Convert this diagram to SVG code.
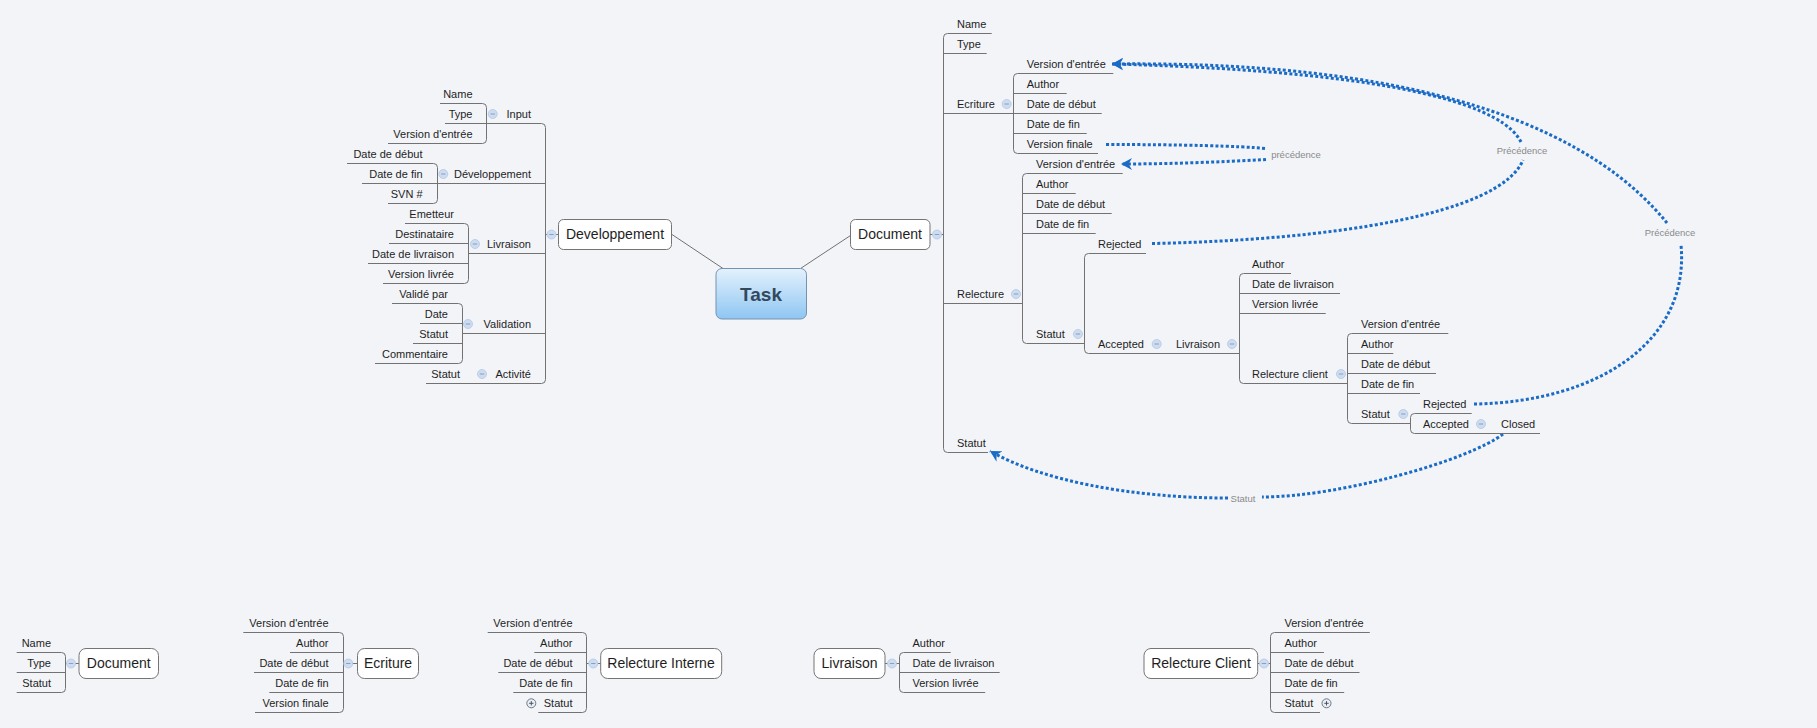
<svg xmlns="http://www.w3.org/2000/svg" width="1817" height="728" viewBox="0 0 1817 728">
<style>
.t{font-family:"Liberation Sans",Arial,sans-serif;font-size:11px;fill:#1e1e1e}
.e{text-anchor:end}
.m{text-anchor:middle}
.big{font-size:14px}
.task{font-size:19px;font-weight:bold;fill:#34485c}
.u{fill:none;stroke:#727272;stroke-width:1}
.box{fill:#ffffff;stroke:#747474;stroke-width:1}
.rel{fill:none;stroke:#1a6bc6;stroke-width:3;stroke-dasharray:3 2.2}
.rl{font-family:"Liberation Sans",Arial,sans-serif;font-size:9.5px;fill:#8a8a8a;text-anchor:middle}
</style>
<defs>
<linearGradient id="tg" x1="0" y1="0" x2="0" y2="1">
<stop offset="0" stop-color="#e3f1fd"/>
<stop offset="1" stop-color="#8fc6f2"/>
</linearGradient>
<g id="mi"><circle r="4.5" fill="#cddcf1" stroke="#b2c7e6" stroke-width="0.8"/><line x1="-2.2" x2="2.2" y1="0" y2="0" stroke="#8797b0" stroke-width="0.9"/></g>
<g id="pl"><circle r="4.5" fill="#e9eef5" stroke="#5d6c7c" stroke-width="0.9"/><line x1="-2.2" x2="2.2" y1="0" y2="0" stroke="#3d4a58" stroke-width="0.9"/><line x1="0" x2="0" y1="-2.2" y2="2.2" stroke="#3d4a58" stroke-width="0.9"/></g>
<marker id="ar" markerUnits="userSpaceOnUse" markerWidth="14" markerHeight="14" refX="11" refY="6" orient="auto" viewBox="0 0 14 12">
<path d="M0,0 L11,6 L0,12 L3.5,6 Z" fill="#1a6bc6"/>
</marker>
</defs>
<rect x="0" y="0" width="1817" height="728" fill="#f2f4f8"/>

<g id="connectors">
<!-- Task links -->
<path class="u" d="M672,234.5 L723,268.5"/>
<path class="u" d="M800.5,268.5 L850.5,235.5"/>
<!-- Developpement side -->
<path class="u" d="M541.5,123.5 Q545.5,123.5 545.5,127.5 V379.5 Q545.5,383.5 541.5,383.5"/>
<path class="u" d="M545.5,234.5 H558.5"/>
<path class="u" d="M482.5,103.5 Q486.5,103.5 486.5,107.5 V139.5 Q486.5,143.5 482.5,143.5"/>
<path class="u" d="M433.5,163.5 Q437.5,163.5 437.5,167.5 V199.5 Q437.5,203.5 433.5,203.5"/>
<path class="u" d="M464.5,223.5 Q468.5,223.5 468.5,227.5 V279.5 Q468.5,283.5 464.5,283.5"/>
<path class="u" d="M458.5,303.5 Q462.5,303.5 462.5,307.5 V359.5 Q462.5,363.5 458.5,363.5"/>
<!-- Document side -->
<path class="u" d="M930,234.5 H943.5"/>
<path class="u" d="M947.5,33.5 Q943.5,33.5 943.5,37.5 V448.5 Q943.5,452.5 947.5,452.5"/>
<path class="u" d="M1017.5,73.5 Q1013.5,73.5 1013.5,77.5 V149.5 Q1013.5,153.5 1017.5,153.5"/>
<path class="u" d="M1026.5,173.5 Q1022.5,173.5 1022.5,177.5 V339.5 Q1022.5,343.5 1026.5,343.5"/>
<path class="u" d="M1088.5,253.5 Q1084.5,253.5 1084.5,257.5 V349.5 Q1084.5,353.5 1088.5,353.5"/>
<path class="u" d="M1243.5,273.5 Q1239.5,273.5 1239.5,277.5 V379.5 Q1239.5,383.5 1243.5,383.5"/>
<path class="u" d="M1351.5,333.5 Q1347.5,333.5 1347.5,337.5 V419.5 Q1347.5,423.5 1351.5,423.5"/>
<path class="u" d="M1414.5,413.5 Q1410.5,413.5 1410.5,417.5 V429.5 Q1410.5,433.5 1414.5,433.5"/>
<!-- legend brackets -->
<path class="u" d="M61.5,652.5 Q65.5,652.5 65.5,656.5 V688.5 Q65.5,692.5 61.5,692.5"/>
<path class="u" d="M65.5,663.5 H79"/>
<path class="u" d="M339.5,632.5 Q343.5,632.5 343.5,636.5 V708.5 Q343.5,712.5 339.5,712.5"/>
<path class="u" d="M343.5,663.5 H357.5"/>
<path class="u" d="M582.5,632.5 Q586.5,632.5 586.5,636.5 V708.5 Q586.5,712.5 582.5,712.5"/>
<path class="u" d="M586.5,663.5 H600.7"/>
<path class="u" d="M903.5,652.5 Q899.5,652.5 899.5,656.5 V688.5 Q899.5,692.5 903.5,692.5"/>
<path class="u" d="M885,663.5 H899.5"/>
<path class="u" d="M1274.5,632.5 Q1270.5,632.5 1270.5,636.5 V708.5 Q1270.5,712.5 1274.5,712.5"/>
<path class="u" d="M1257.7,663.5 H1270.5"/>
<!-- relationships -->
<g id="rel-precedence-1">
<path class="rel" d="M1106,144.5 C1180,144.5 1240,146 1266,148.5 M1266,159.5 C1220,162 1170,164 1121,164" marker-end="url(#ar)"/>
<text class="rl" x="1296" y="157.5">précédence</text>
</g>
<g id="rel-precedence-2">
<path class="rel" d="M1152,243.5 C1330,240 1500,215 1523,160 M1521,142 C1505,110 1420,72 1112,64" marker-end="url(#ar)"/>
<text class="rl" x="1522" y="154">Précédence</text>
</g>
<g id="rel-precedence-3">
<path class="rel" d="M1474,404 C1600,402 1690,340 1681,245 M1667,223 C1600,140 1450,60 1112,64" marker-end="url(#ar)"/>
<text class="rl" x="1670" y="236">Précédence</text>
</g>
<g id="rel-statut">
<path class="rel" d="M1503,434 C1470,460 1340,497 1262,497 M1228,498 C1130,498 1040,480 990,451" marker-end="url(#ar)"/>
<text class="rl" x="1243" y="501.5">Statut</text>
</g>
</g>

<!-- central -->
<g id="task"><rect x="716" y="268.5" width="90.5" height="50.5" rx="6" fill="url(#tg)" stroke="#7593b0"/><text class="t task m" x="761" y="300.5">Task</text></g>
<g id="developpement"><rect class="box" x="558.5" y="219.5" width="113" height="30" rx="5"/><text class="t big m" x="615" y="239">Developpement</text><use href="#mi" x="551.5" y="234.5"/></g>
<g id="document"><rect class="box" x="850.5" y="219.5" width="79.5" height="30" rx="5"/><text class="t big m" x="890" y="239">Document</text><use href="#mi" x="937" y="234.5"/></g>

<!-- Developpement subtree -->
<g id="d-input"><text class="t e" x="531" y="118">Input</text><use href="#mi" x="492.7" y="114"/><path class="u" d="M486.5,123.5H541.5"/></g>
<g id="d-input-name"><text class="t e" x="472.5" y="98">Name</text><path class="u" d="M440,103.5H482.5"/></g>
<g id="d-input-type"><text class="t e" x="472.5" y="118">Type</text><path class="u" d="M445,123.5H486.5"/></g>
<g id="d-input-version"><text class="t e" x="472.5" y="138">Version d'entrée</text><path class="u" d="M388,143.5H482.5"/></g>
<g id="d-dev"><text class="t e" x="531" y="178">Développement</text><use href="#mi" x="443.3" y="174"/><path class="u" d="M437.5,183.5H545.5"/></g>
<g id="d-dev-debut"><text class="t e" x="422.5" y="158">Date de début</text><path class="u" d="M347,163.5H433.5"/></g>
<g id="d-dev-fin"><text class="t e" x="422.5" y="178">Date de fin</text><path class="u" d="M362,183.5H437.5"/></g>
<g id="d-dev-svn"><text class="t e" x="422.5" y="198">SVN #</text><path class="u" d="M388,203.5H433.5"/></g>
<g id="d-liv"><text class="t e" x="531" y="248">Livraison</text><use href="#mi" x="475" y="244"/><path class="u" d="M468.5,253.5H545.5"/></g>
<g id="d-liv-emetteur"><text class="t e" x="454" y="218">Emetteur</text><path class="u" d="M405,223.5H464.5"/></g>
<g id="d-liv-dest"><text class="t e" x="454" y="238">Destinataire</text><path class="u" d="M389,243.5H468.5"/></g>
<g id="d-liv-date"><text class="t e" x="454" y="258">Date de livraison</text><path class="u" d="M368,263.5H468.5"/></g>
<g id="d-liv-version"><text class="t e" x="454" y="278">Version livrée</text><path class="u" d="M383,283.5H464.5"/></g>
<g id="d-val"><text class="t e" x="531" y="328">Validation</text><use href="#mi" x="468" y="324"/><path class="u" d="M462.5,333.5H545.5"/></g>
<g id="d-val-par"><text class="t e" x="448" y="298">Validé par</text><path class="u" d="M392,303.5H458.5"/></g>
<g id="d-val-date"><text class="t e" x="448" y="318">Date</text><path class="u" d="M420,323.5H462.5"/></g>
<g id="d-val-statut"><text class="t e" x="448" y="338">Statut</text><path class="u" d="M413,343.5H462.5"/></g>
<g id="d-val-comm"><text class="t e" x="448" y="358">Commentaire</text><path class="u" d="M375,363.5H458.5"/></g>
<g id="d-act"><text class="t e" x="531" y="378">Activité</text><use href="#mi" x="482" y="374"/><path class="u" d="M474,383.5H541.5"/></g>
<g id="d-act-statut"><text class="t e" x="460" y="378">Statut</text><path class="u" d="M426,383.5H474"/></g>

<!-- Document subtree -->
<g id="r-name"><text class="t" x="957" y="28">Name</text><path class="u" d="M947.5,33.5H991.7"/></g>
<g id="r-type"><text class="t" x="957" y="48">Type</text><path class="u" d="M943.5,53.5H986.7"/></g>
<g id="r-ecriture"><text class="t" x="957" y="108">Ecriture</text><use href="#mi" x="1006.7" y="104"/><path class="u" d="M943.5,113.5H1013.5"/></g>
<g id="r-ec-version"><text class="t" x="1026.7" y="68">Version d'entrée</text><path class="u" d="M1017.5,73.5H1113.3"/></g>
<g id="r-ec-author"><text class="t" x="1026.7" y="88">Author</text><path class="u" d="M1013.5,93.5H1066.7"/></g>
<g id="r-ec-debut"><text class="t" x="1026.7" y="108">Date de début</text><path class="u" d="M1013.5,113.5H1101.7"/></g>
<g id="r-ec-fin"><text class="t" x="1026.7" y="128">Date de fin</text><path class="u" d="M1013.5,133.5H1086.7"/></g>
<g id="r-ec-finale"><text class="t" x="1026.7" y="148">Version finale</text><path class="u" d="M1017.5,153.5H1098"/></g>
<g id="r-relecture"><text class="t" x="957" y="298">Relecture</text><use href="#mi" x="1016" y="294"/><path class="u" d="M943.5,303.5H1022.5"/></g>
<g id="r-rl-version"><text class="t" x="1036" y="168">Version d'entrée</text><path class="u" d="M1026.5,173.5H1122.7"/></g>
<g id="r-rl-author"><text class="t" x="1036" y="188">Author</text><path class="u" d="M1022.5,193.5H1075.7"/></g>
<g id="r-rl-debut"><text class="t" x="1036" y="208">Date de début</text><path class="u" d="M1022.5,213.5H1111.7"/></g>
<g id="r-rl-fin"><text class="t" x="1036" y="228">Date de fin</text><path class="u" d="M1022.5,233.5H1095.7"/></g>
<g id="r-rl-statut"><text class="t" x="1036" y="338">Statut</text><use href="#mi" x="1078" y="334"/><path class="u" d="M1026.5,343.5H1084.5"/></g>
<g id="r-rl-rejected"><text class="t" x="1098" y="248">Rejected</text><path class="u" d="M1088.5,253.5H1146"/></g>
<g id="r-rl-accepted"><text class="t" x="1098" y="348">Accepted</text><use href="#mi" x="1156.7" y="344"/><path class="u" d="M1088.5,353.5H1170"/></g>
<g id="r-liv"><text class="t" x="1176" y="348">Livraison</text><use href="#mi" x="1232" y="344"/><path class="u" d="M1170,353.5H1239.5"/></g>
<g id="r-liv-author"><text class="t" x="1252" y="268">Author</text><path class="u" d="M1243.5,273.5H1291"/></g>
<g id="r-liv-date"><text class="t" x="1252" y="288">Date de livraison</text><path class="u" d="M1239.5,293.5H1340"/></g>
<g id="r-liv-version"><text class="t" x="1252" y="308">Version livrée</text><path class="u" d="M1239.5,313.5H1325.7"/></g>
<g id="r-rc"><text class="t" x="1252" y="378">Relecture client</text><use href="#mi" x="1341" y="374"/><path class="u" d="M1243.5,383.5H1347.5"/></g>
<g id="r-rc-version"><text class="t" x="1361" y="328">Version d'entrée</text><path class="u" d="M1351.5,333.5H1448.3"/></g>
<g id="r-rc-author"><text class="t" x="1361" y="348">Author</text><path class="u" d="M1347.5,353.5H1393.3"/></g>
<g id="r-rc-debut"><text class="t" x="1361" y="368">Date de début</text><path class="u" d="M1347.5,373.5H1436"/></g>
<g id="r-rc-fin"><text class="t" x="1361" y="388">Date de fin</text><path class="u" d="M1347.5,393.5H1420"/></g>
<g id="r-rc-statut"><text class="t" x="1361" y="418">Statut</text><use href="#mi" x="1403.3" y="414"/><path class="u" d="M1351.5,423.5H1410.5"/></g>
<g id="r-rc-rejected"><text class="t" x="1423" y="408">Rejected</text><path class="u" d="M1414.5,413.5H1471.7"/></g>
<g id="r-rc-accepted"><text class="t" x="1423" y="428">Accepted</text><use href="#mi" x="1481" y="424"/><path class="u" d="M1414.5,433.5H1495"/></g>
<g id="r-rc-closed"><text class="t" x="1501" y="428">Closed</text><path class="u" d="M1495,433.5H1540"/></g>
<g id="r-statut"><text class="t" x="957" y="447">Statut</text><path class="u" d="M947.5,452.5H988"/></g>

<!-- Legend: Document -->
<g id="l-document"><rect class="box" x="79" y="648.5" width="79.5" height="30" rx="7"/><text class="t big m" x="118.7" y="668">Document</text><use href="#mi" x="71" y="663.5"/></g>
<g id="l-doc-name"><text class="t e" x="51" y="647">Name</text><path class="u" d="M16.7,652.5H61.5"/></g>
<g id="l-doc-type"><text class="t e" x="51" y="667">Type</text><path class="u" d="M16.7,672.5H65.5"/></g>
<g id="l-doc-statut"><text class="t e" x="51" y="687">Statut</text><path class="u" d="M16.7,692.5H61.5"/></g>
<!-- Legend: Ecriture -->
<g id="l-ecriture"><rect class="box" x="357.5" y="648.5" width="61" height="30" rx="7"/><text class="t big m" x="388" y="668">Ecriture</text><use href="#mi" x="348.3" y="663.5"/></g>
<g id="l-ec-version"><text class="t e" x="328.5" y="627">Version d'entrée</text><path class="u" d="M243.3,632.5H339.5"/></g>
<g id="l-ec-author"><text class="t e" x="328.5" y="647">Author</text><path class="u" d="M290,652.5H343.5"/></g>
<g id="l-ec-debut"><text class="t e" x="328.5" y="667">Date de début</text><path class="u" d="M254,672.5H343.5"/></g>
<g id="l-ec-fin"><text class="t e" x="328.5" y="687">Date de fin</text><path class="u" d="M269.3,692.5H343.5"/></g>
<g id="l-ec-finale"><text class="t e" x="328.5" y="707">Version finale</text><path class="u" d="M255,712.5H339.5"/></g>
<!-- Legend: Relecture Interne -->
<g id="l-ri"><rect class="box" x="600.7" y="648.5" width="121" height="30" rx="7"/><text class="t big m" x="661" y="668">Relecture Interne</text><use href="#mi" x="593.3" y="663.5"/></g>
<g id="l-ri-version"><text class="t e" x="572.5" y="627">Version d'entrée</text><path class="u" d="M487.7,632.5H582.5"/></g>
<g id="l-ri-author"><text class="t e" x="572.5" y="647">Author</text><path class="u" d="M534.3,652.5H586.5"/></g>
<g id="l-ri-debut"><text class="t e" x="572.5" y="667">Date de début</text><path class="u" d="M498.3,672.5H586.5"/></g>
<g id="l-ri-fin"><text class="t e" x="572.5" y="687">Date de fin</text><path class="u" d="M513.3,692.5H586.5"/></g>
<g id="l-ri-statut"><text class="t e" x="572.5" y="707">Statut</text><use href="#pl" x="531.3" y="703.3"/><path class="u" d="M538.3,712.5H582.5"/></g>
<!-- Legend: Livraison -->
<g id="l-livraison"><rect class="box" x="814" y="648.5" width="71" height="30" rx="7"/><text class="t big m" x="849.5" y="668">Livraison</text><use href="#mi" x="892" y="663.5"/></g>
<g id="l-liv-author"><text class="t" x="912.5" y="647">Author</text><path class="u" d="M903.5,652.5H950.7"/></g>
<g id="l-liv-date"><text class="t" x="912.5" y="667">Date de livraison</text><path class="u" d="M899.5,672.5H999.7"/></g>
<g id="l-liv-version"><text class="t" x="912.5" y="687">Version livrée</text><path class="u" d="M903.5,692.5H985.2"/></g>
<!-- Legend: Relecture Client -->
<g id="l-rc"><rect class="box" x="1144" y="648.5" width="113.7" height="30" rx="7"/><text class="t big m" x="1201" y="668">Relecture Client</text><use href="#mi" x="1264" y="663.5"/></g>
<g id="l-rc-version"><text class="t" x="1284.5" y="627">Version d'entrée</text><path class="u" d="M1274.5,632.5H1369.8"/></g>
<g id="l-rc-author"><text class="t" x="1284.5" y="647">Author</text><path class="u" d="M1270.5,652.5H1323.9"/></g>
<g id="l-rc-debut"><text class="t" x="1284.5" y="667">Date de début</text><path class="u" d="M1270.5,672.5H1359.5"/></g>
<g id="l-rc-fin"><text class="t" x="1284.5" y="687">Date de fin</text><path class="u" d="M1270.5,692.5H1344.2"/></g>
<g id="l-rc-statut"><text class="t" x="1284.5" y="707">Statut</text><use href="#pl" x="1326.5" y="703.3"/><path class="u" d="M1274.5,712.5H1320"/></g>
</svg>
